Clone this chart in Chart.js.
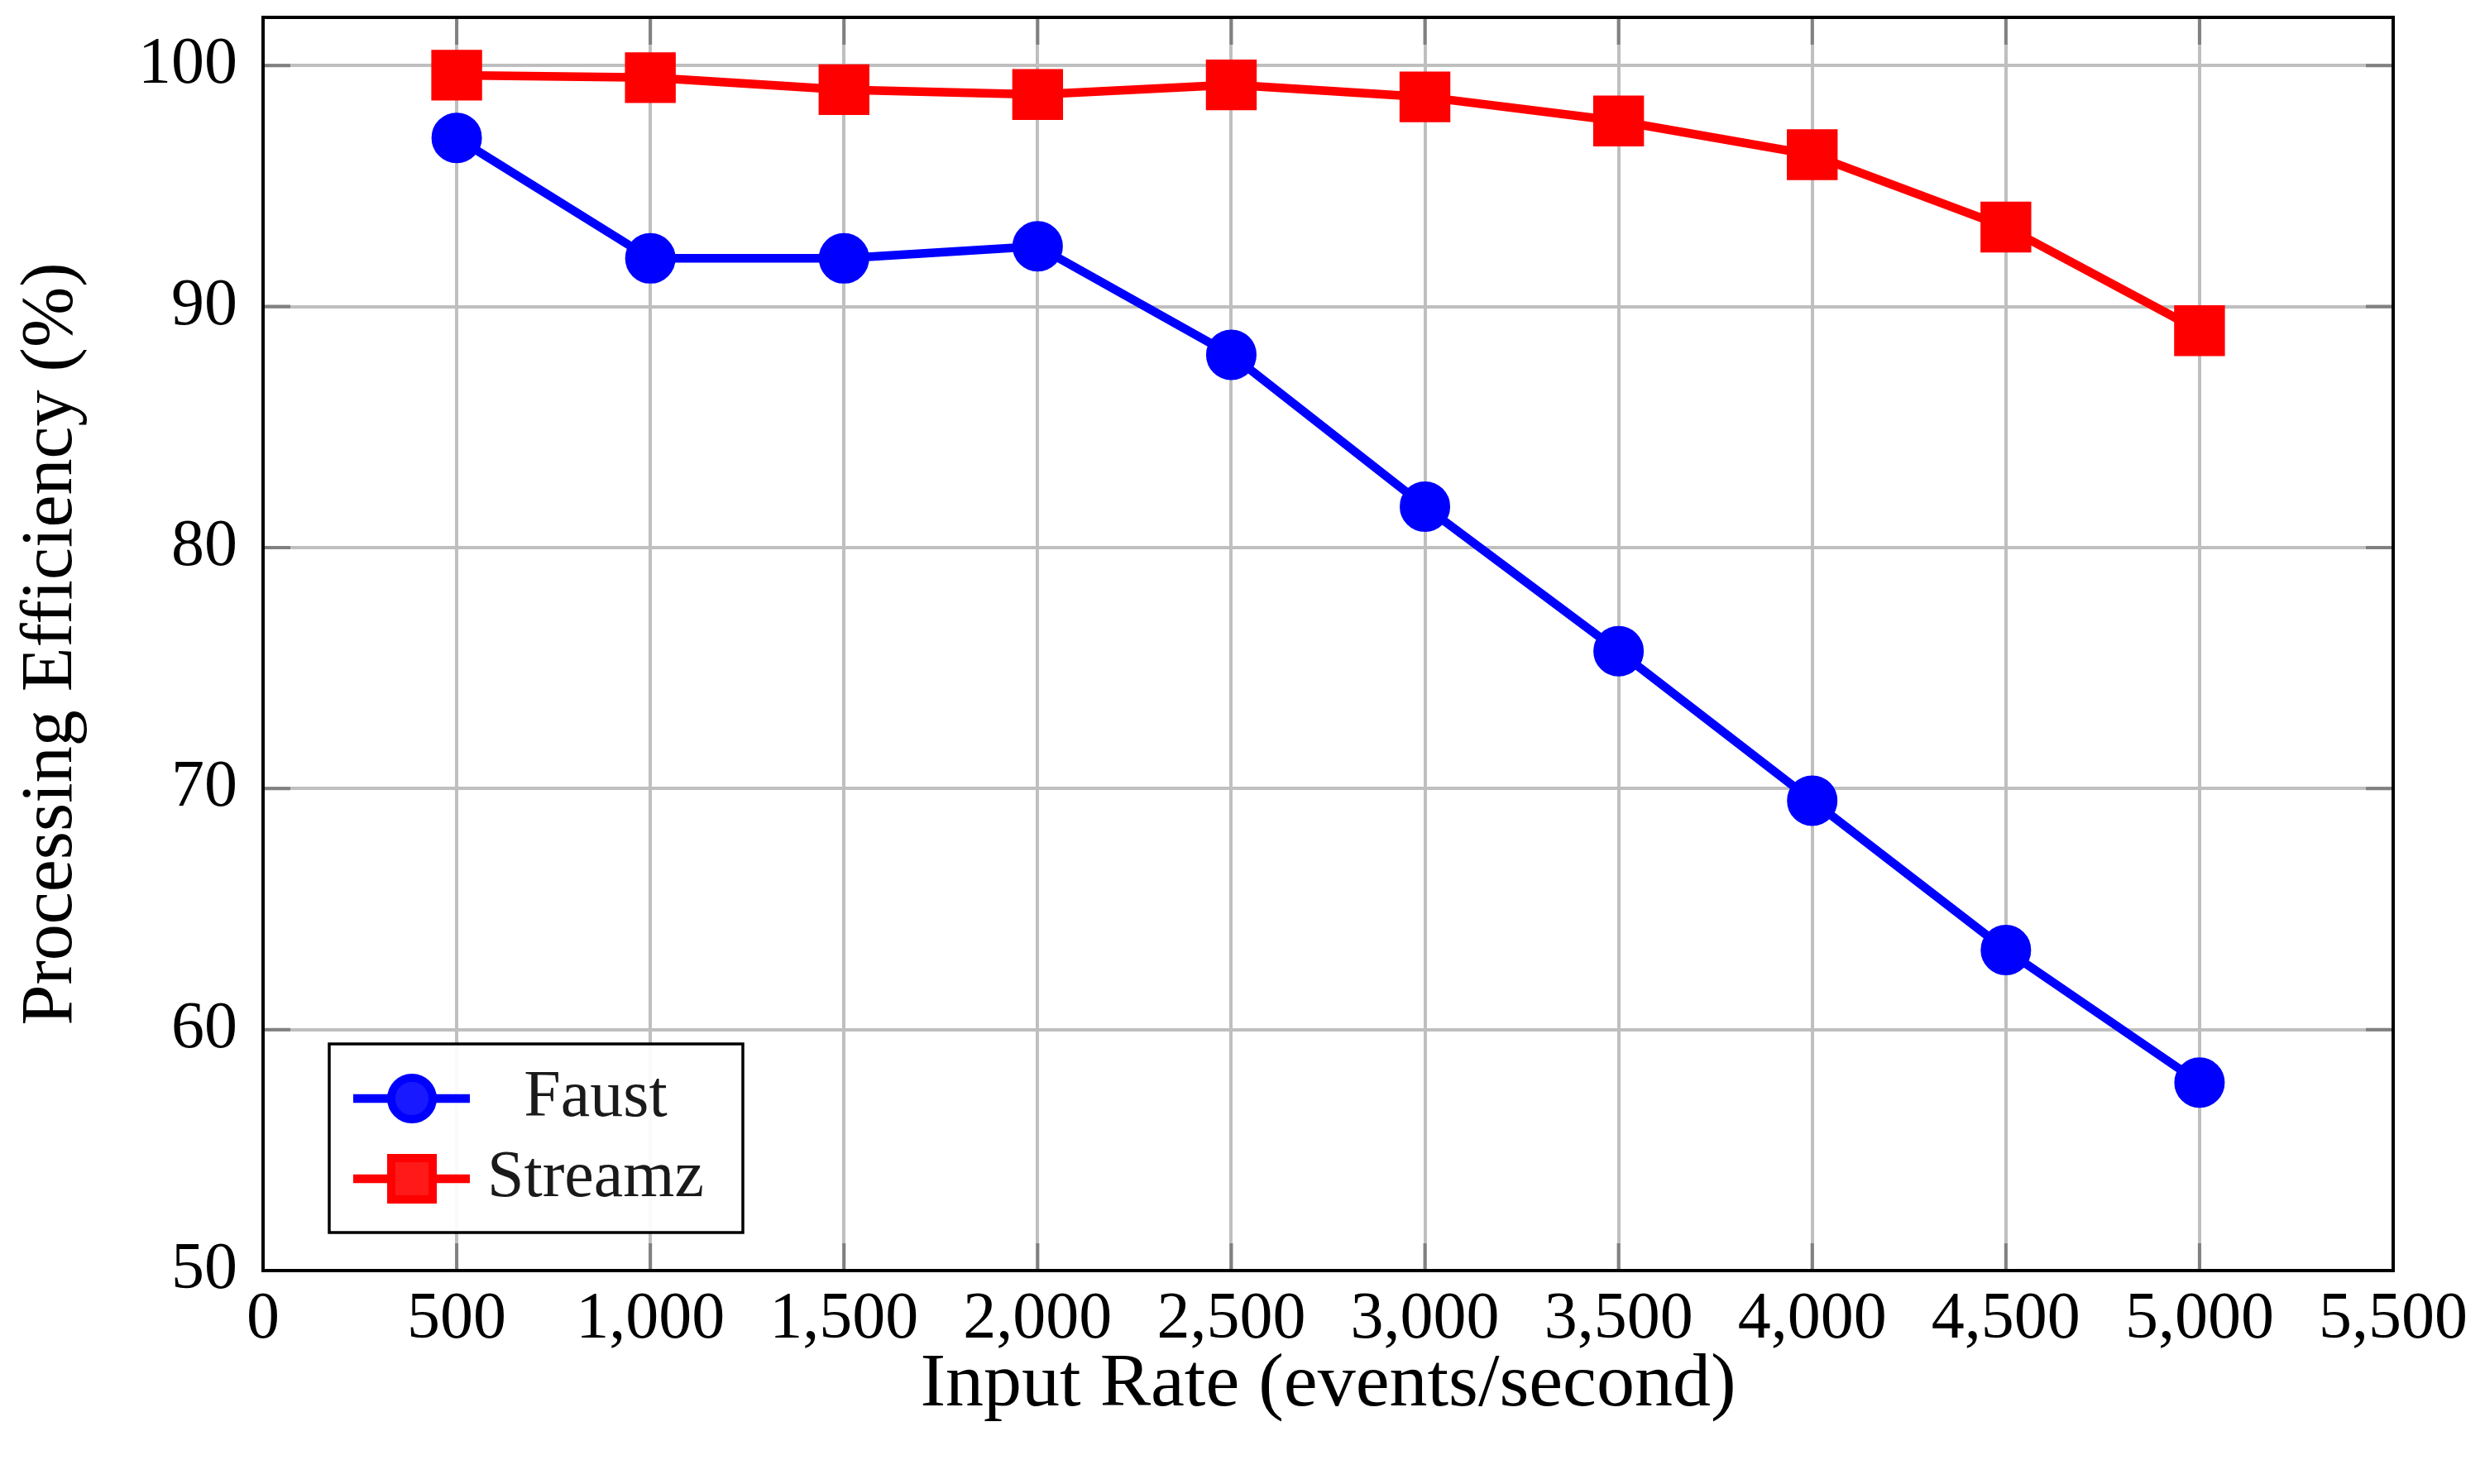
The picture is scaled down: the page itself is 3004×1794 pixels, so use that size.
<!DOCTYPE html>
<html>
<head>
<meta charset="utf-8">
<title>Processing Efficiency</title>
<script src="https://cdn.jsdelivr.net/npm/chart.js@4.4.1/dist/chart.umd.min.js"></script>
<style>
  html, body { margin: 0; padding: 0; background: #ffffff; }
  canvas { display: block; }
</style>
</head>
<body>
<canvas id="myChart" width="3004" height="1794"></canvas>
<script>
// data
const inputRates = [500, 1000, 1500, 2000, 2500, 3000, 3500, 4000, 4500, 5000];
const faustValues = [97.0, 92.0, 92.0, 92.5, 88.0, 81.7, 75.7, 69.5, 63.3, 57.8];
const streamzValues = [99.6, 99.5, 99.0, 98.8, 99.2, 98.7, 97.7, 96.3, 93.3, 89.0];
const xTickValues = [0, 500, 1000, 1500, 2000, 2500, 3000, 3500, 4000, 4500, 5000, 5500];
const yTickValues = [50, 60, 70, 80, 90, 100];

const FONT = "'Liberation Serif', 'DejaVu Serif', serif";
const GRID = "#bfbfbf";

const toPoints = (vals) => vals.map((v, i) => ({ x: inputRates[i], y: v }));

// pgfplots style ticks drawn inside the frame on all four sides
const innerTicks = {
  id: "innerTicks",
  beforeDatasetsDraw(chart) {
    const { ctx, chartArea: a, scales: { x, y } } = chart;
    const len = 33;
    ctx.save();
    ctx.strokeStyle = "#808080";
    ctx.lineWidth = 4;
    ctx.beginPath();
    xTickValues.forEach((v) => {
      const px = x.getPixelForValue(v);
      ctx.moveTo(px, a.bottom); ctx.lineTo(px, a.bottom - len);
      ctx.moveTo(px, a.top); ctx.lineTo(px, a.top + len);
    });
    yTickValues.forEach((v) => {
      const py = y.getPixelForValue(v);
      ctx.moveTo(a.left, py); ctx.lineTo(a.left + len, py);
      ctx.moveTo(a.right, py); ctx.lineTo(a.right - len, py);
    });
    ctx.stroke();
    ctx.restore();
  },
};

const frameAndLegend = {
  id: "frameAndLegend",
  afterDatasetsDraw(chart) {
    const { ctx, chartArea: a } = chart;
    ctx.save();
    ctx.strokeStyle = "#000";
    ctx.lineWidth = 4;
    ctx.strokeRect(a.left, a.top, a.right - a.left, a.bottom - a.top);

    // legend box, bottom left
    const w = 500, h = 228;
    const left = a.left + 80;
    const top = a.bottom - 46 - h;
    ctx.fillStyle = "rgba(255,255,255,0.92)";
    ctx.fillRect(left, top, w, h);
    ctx.lineWidth = 3.5;
    ctx.strokeRect(left, top, w, h);

    const rows = [66, 163];
    chart.data.datasets.forEach((ds, i) => {
      const cy = top + rows[i];
      const mx = left + 100;
      ctx.strokeStyle = ds.borderColor;
      ctx.lineWidth = ds.borderWidth;
      ctx.beginPath();
      ctx.moveTo(left + 29, cy);
      ctx.lineTo(left + 170, cy);
      ctx.stroke();

      ctx.fillStyle = ds.legendFill;
      ctx.lineWidth = 10;
      ctx.beginPath();
      if (ds.pointStyle === "circle") {
        ctx.arc(mx, cy, 25, 0, Math.PI * 2);
      } else {
        ctx.rect(mx - 25, cy - 25, 50, 50);
      }
      ctx.fill();
      ctx.stroke();

      ctx.fillStyle = "#1a1a1a";
      ctx.font = "80px " + FONT;
      ctx.textAlign = "center";
      ctx.textBaseline = "alphabetic";
      ctx.fillText(ds.label, left + 322, cy + 21);
    });
    ctx.restore();
  },
};

const ctx = document.getElementById("myChart").getContext("2d");
new Chart(ctx, {
  type: "line",
  data: {
    datasets: [
      {
        label: "Faust",
        data: toPoints(faustValues),
        borderColor: "#0000ff",
        backgroundColor: "#0000ff",
        legendFill: "rgba(25,25,255,1)",
        borderWidth: 10.5,
        pointStyle: "circle",
        pointRadius: 29.5,
        pointBorderWidth: 2,
        pointHoverRadius: 29.5,
        tension: 0,
      },
      {
        label: "Streamz",
        data: toPoints(streamzValues),
        borderColor: "#ff0000",
        backgroundColor: "#ff0000",
        legendFill: "rgba(255,25,25,1)",
        borderWidth: 10.5,
        pointStyle: "rect",
        pointRadius: 42,
        pointBorderWidth: 2,
        pointHoverRadius: 42,
        tension: 0,
      },
    ],
  },
  options: {
    responsive: false,
    animation: false,
    devicePixelRatio: 1,
    layout: { autoPadding: false, padding: { top: 21, right: 111, bottom: 0, left: 0 } },
    plugins: {
      legend: { display: false },
      tooltip: { enabled: false },
    },
    scales: {
      x: {
        type: "linear",
        min: 0,
        max: 5500,
        afterBuildTicks: (scale) => {
          scale.ticks = xTickValues.map((v) => ({ value: v }));
        },
        afterFit: (scale) => {
          scale.height = 258;
          scale.paddingLeft = 0;
          scale.paddingRight = 0;
        },
        grid: { color: GRID, lineWidth: 4, drawTicks: false },
        border: { display: false },
        ticks: {
          color: "#000",
          padding: 12,
          maxRotation: 0,
          font: { family: FONT, size: 80 },
          callback: (v) => v.toLocaleString("en-US"),
        },
        title: {
          display: true,
          text: "Input Rate (events/second)",
          color: "#000",
          font: { family: FONT, size: 92 },
          padding: { top: 0, bottom: 64 },
        },
      },
      y: {
        min: 50,
        max: 102,
        afterBuildTicks: (scale) => {
          scale.ticks = yTickValues.map((v) => ({ value: v }));
        },
        afterFit: (scale) => {
          scale.width = 318;
          scale.paddingTop = 0;
          scale.paddingBottom = 0;
        },
        grid: { color: GRID, lineWidth: 4, drawTicks: false },
        border: { display: false },
        ticks: {
          color: "#000",
          padding: 31,
          font: { family: FONT, size: 80 },
        },
        title: {
          display: true,
          text: "Processing Efficiency (%)",
          color: "#000",
          font: { family: FONT, size: 88 },
          padding: { top: 10, bottom: 0 },
        },
      },
    },
  },
  plugins: [innerTicks, frameAndLegend],
});
</script>
</body>
</html>
